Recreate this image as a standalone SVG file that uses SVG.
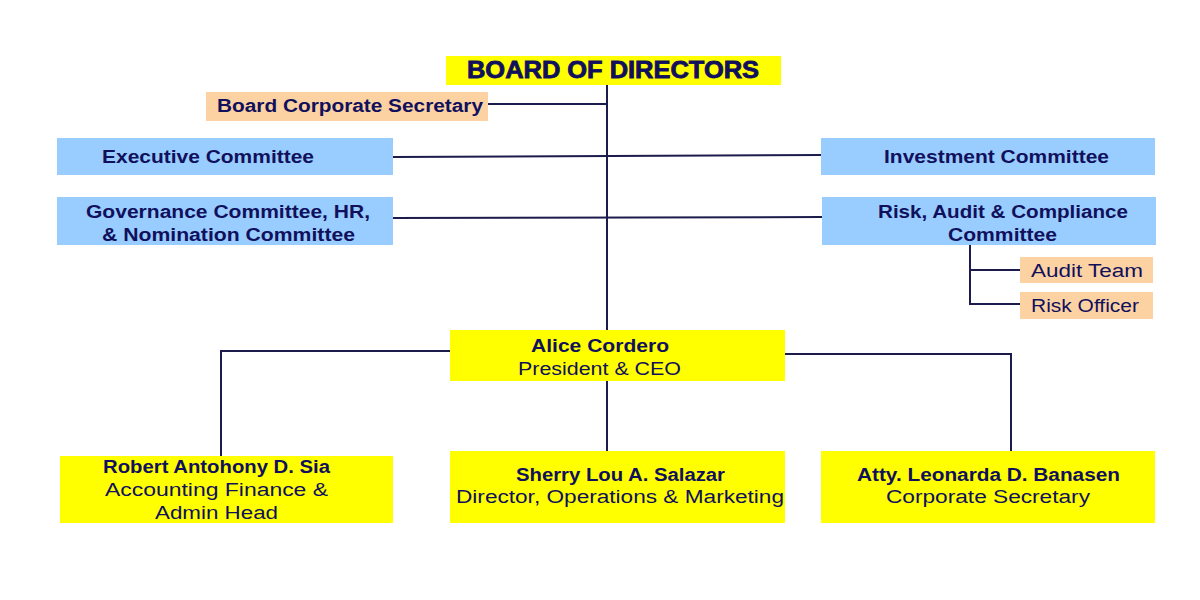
<svg xmlns="http://www.w3.org/2000/svg" width="1200" height="600" viewBox="0 0 1200 600">
<style>
.y{fill:#ffff00}
.p{fill:#fcd2a2}
.b{fill:#99ccff}
text{font-family:"Liberation Sans",Arial,sans-serif;fill:#10105c;text-anchor:middle;font-size:18px}
.t{font-weight:bold}
.big{font-weight:bold;font-size:23px;stroke:#10105c;stroke-width:0.8}
.c{fill:none;stroke:#1c1c4c;stroke-width:2}
</style>
<rect width="1200" height="600" fill="#ffffff"/>
<g id="connectors">
<path class="c" d="M607 85V330"/>
<path class="c" d="M488 104H607"/>
<path class="c" d="M393 157L821 155"/>
<path class="c" d="M393 218L822 217"/>
<path class="c" d="M970 245V304H1020M970 270H1020"/>
<path class="c" d="M450 351H221V456"/>
<path class="c" d="M785 354H1011V451"/>
<path class="c" d="M607 381V451"/>
</g>
<g id="board">
<rect class="y" x="446" y="56" width="335" height="29"/>
<text class="big" x="613" y="78" textLength="292" lengthAdjust="spacingAndGlyphs">BOARD OF DIRECTORS</text>
</g>
<g id="board-secretary">
<rect class="p" x="206" y="92" width="282" height="29"/>
<text class="t" x="350" y="112" textLength="266" lengthAdjust="spacingAndGlyphs">Board Corporate Secretary</text>
</g>
<g id="executive">
<rect class="b" x="57" y="138" width="336" height="37"/>
<text class="t" x="208" y="163" textLength="212" lengthAdjust="spacingAndGlyphs">Executive Committee</text>
</g>
<g id="investment">
<rect class="b" x="821" y="138" width="334" height="37"/>
<text class="t" x="996.5" y="163" textLength="225" lengthAdjust="spacingAndGlyphs">Investment Committee</text>
</g>
<g id="governance">
<rect class="b" x="57" y="197" width="336" height="48"/>
<text class="t" x="228" y="218" textLength="284" lengthAdjust="spacingAndGlyphs">Governance Committee, HR,</text>
<text class="t" x="228.5" y="241" textLength="253" lengthAdjust="spacingAndGlyphs">&amp; Nomination Committee</text>
</g>
<g id="risk-audit">
<rect class="b" x="822" y="197" width="334" height="48"/>
<text class="t" x="1003" y="218" textLength="250" lengthAdjust="spacingAndGlyphs">Risk, Audit &amp; Compliance</text>
<text class="t" x="1002.5" y="241" textLength="109" lengthAdjust="spacingAndGlyphs">Committee</text>
</g>
<g id="audit-team">
<rect class="p" x="1020" y="257" width="133" height="26"/>
<text x="1087" y="277" textLength="112" lengthAdjust="spacingAndGlyphs">Audit Team</text>
</g>
<g id="risk-officer">
<rect class="p" x="1020" y="292" width="133" height="27"/>
<text x="1085" y="312" textLength="108" lengthAdjust="spacingAndGlyphs">Risk Officer</text>
</g>
<g id="ceo">
<rect class="y" x="450" y="330" width="335" height="51"/>
<text class="t" x="600" y="352" textLength="138" lengthAdjust="spacingAndGlyphs">Alice Cordero</text>
<text x="599.5" y="375" textLength="163" lengthAdjust="spacingAndGlyphs">President &amp; CEO</text>
</g>
<g id="finance-head">
<rect class="y" x="60" y="456" width="333" height="67"/>
<text class="t" x="216.5" y="473" textLength="227" lengthAdjust="spacingAndGlyphs">Robert Antohony D. Sia</text>
<text x="216.5" y="496" textLength="223" lengthAdjust="spacingAndGlyphs">Accounting Finance &amp;</text>
<text x="216.5" y="519" textLength="123" lengthAdjust="spacingAndGlyphs">Admin Head</text>
</g>
<g id="operations-director">
<rect class="y" x="450" y="451" width="335" height="72"/>
<text class="t" x="620.5" y="481" textLength="209" lengthAdjust="spacingAndGlyphs">Sherry Lou A. Salazar</text>
<text x="620" y="503" textLength="328" lengthAdjust="spacingAndGlyphs">Director, Operations &amp; Marketing</text>
</g>
<g id="corporate-secretary">
<rect class="y" x="821" y="451" width="334" height="72"/>
<text class="t" x="988.5" y="481" textLength="263" lengthAdjust="spacingAndGlyphs">Atty. Leonarda D. Banasen</text>
<text x="988" y="503" textLength="204" lengthAdjust="spacingAndGlyphs">Corporate Secretary</text>
</g>
</svg>
